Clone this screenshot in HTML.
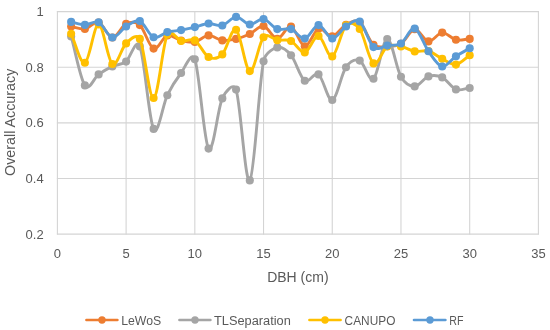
<!DOCTYPE html>
<html><head><meta charset="utf-8"><title>chart</title>
<style>html,body{margin:0;padding:0;background:#fff}svg{display:block}text{font-family:"Liberation Sans",sans-serif;fill:#595959}</style></head>
<body>
<svg width="550" height="330" viewBox="0 0 550 330">
<rect width="550" height="330" fill="#fff"/>
<g stroke="#D4D4D4" stroke-width="1.1" fill="none"><line x1="56.90" y1="11.60" x2="538.90" y2="11.60"/><line x1="56.90" y1="67.22" x2="538.90" y2="67.22"/><line x1="56.90" y1="122.85" x2="538.90" y2="122.85"/><line x1="56.90" y1="178.47" x2="538.90" y2="178.47"/><line x1="56.90" y1="234.10" x2="538.90" y2="234.10"/><line x1="57.40" y1="11.10" x2="57.40" y2="234.60"/><line x1="126.11" y1="11.10" x2="126.11" y2="234.60"/><line x1="194.83" y1="11.10" x2="194.83" y2="234.60"/><line x1="263.54" y1="11.10" x2="263.54" y2="234.60"/><line x1="332.26" y1="11.10" x2="332.26" y2="234.60"/><line x1="400.97" y1="11.10" x2="400.97" y2="234.60"/><line x1="469.69" y1="11.10" x2="469.69" y2="234.60"/><line x1="538.40" y1="11.10" x2="538.40" y2="234.60"/></g>
<path d="M71.14 26.60 C75.72 27.37 80.30 29.58 84.89 28.90 C89.47 28.22 94.05 21.07 98.63 22.50 C103.21 23.93 107.79 37.27 112.37 37.50 C116.95 37.73 121.53 25.97 126.11 23.90 C130.70 21.83 135.28 20.98 139.86 25.10 C144.44 29.22 149.02 46.88 153.60 48.60 C158.18 50.32 162.76 36.73 167.34 35.40 C171.92 34.07 176.50 39.50 181.09 40.60 C185.67 41.70 190.25 42.87 194.83 42.00 C199.41 41.13 203.99 35.67 208.57 35.40 C213.15 35.13 217.73 39.82 222.31 40.40 C226.90 40.98 231.48 39.97 236.06 38.90 C240.64 37.83 245.22 36.15 249.80 34.00 C254.38 31.85 258.96 25.20 263.54 26.00 C268.12 26.80 272.70 38.70 277.29 38.80 C281.87 38.90 286.45 25.35 291.03 26.60 C295.61 27.85 300.19 45.93 304.77 46.30 C309.35 46.67 313.93 30.47 318.51 28.80 C323.10 27.13 327.68 36.98 332.26 36.30 C336.84 35.62 341.42 27.00 346.00 24.70 C350.58 22.40 355.16 19.15 359.74 22.50 C364.32 25.85 368.90 40.83 373.49 44.80 C378.07 48.77 382.65 46.47 387.23 46.30 C391.81 46.13 396.39 46.63 400.97 43.80 C405.55 40.97 410.13 29.70 414.71 29.30 C419.30 28.90 423.88 40.85 428.46 41.40 C433.04 41.95 437.62 32.87 442.20 32.60 C446.78 32.33 451.36 38.75 455.94 39.80 C460.52 40.85 465.10 39.20 469.69 38.90" fill="none" stroke="#ED7D31" stroke-width="2.9" stroke-linecap="round" stroke-linejoin="round"/>
<g fill="#ED7D31"><circle cx="71.14" cy="26.60" r="4.05"/><circle cx="84.89" cy="28.90" r="4.05"/><circle cx="98.63" cy="22.50" r="4.05"/><circle cx="112.37" cy="37.50" r="4.05"/><circle cx="126.11" cy="23.90" r="4.05"/><circle cx="139.86" cy="25.10" r="4.05"/><circle cx="153.60" cy="48.60" r="4.05"/><circle cx="167.34" cy="35.40" r="4.05"/><circle cx="181.09" cy="40.60" r="4.05"/><circle cx="194.83" cy="42.00" r="4.05"/><circle cx="208.57" cy="35.40" r="4.05"/><circle cx="222.31" cy="40.40" r="4.05"/><circle cx="236.06" cy="38.90" r="4.05"/><circle cx="249.80" cy="34.00" r="4.05"/><circle cx="263.54" cy="26.00" r="4.05"/><circle cx="277.29" cy="38.80" r="4.05"/><circle cx="291.03" cy="26.60" r="4.05"/><circle cx="304.77" cy="46.30" r="4.05"/><circle cx="318.51" cy="28.80" r="4.05"/><circle cx="332.26" cy="36.30" r="4.05"/><circle cx="346.00" cy="24.70" r="4.05"/><circle cx="359.74" cy="22.50" r="4.05"/><circle cx="373.49" cy="44.80" r="4.05"/><circle cx="387.23" cy="46.30" r="4.05"/><circle cx="400.97" cy="43.80" r="4.05"/><circle cx="414.71" cy="29.30" r="4.05"/><circle cx="428.46" cy="41.40" r="4.05"/><circle cx="442.20" cy="32.60" r="4.05"/><circle cx="455.94" cy="39.80" r="4.05"/><circle cx="469.69" cy="38.90" r="4.05"/></g>
<path d="M71.14 36.40 C75.72 52.73 80.30 79.07 84.89 85.40 C89.47 91.73 94.05 77.57 98.63 74.40 C103.21 71.23 107.79 68.53 112.37 66.40 C116.95 64.27 121.53 64.93 126.11 61.60 C129.99 58.78 135.98 36.91 139.86 46.40 C144.44 57.62 149.02 120.77 153.60 128.90 C158.18 137.03 162.76 104.52 167.34 95.20 C171.92 85.88 176.50 78.98 181.09 73.00 C184.40 68.67 191.51 50.18 194.83 59.30 C199.41 71.90 203.99 142.08 208.57 148.60 C213.15 155.12 217.73 108.23 222.31 98.40 C225.76 91.00 233.46 81.86 236.06 89.60 C240.64 103.27 245.22 185.13 249.80 180.40 C254.38 175.67 258.96 83.37 263.54 61.20 C265.51 51.66 275.31 47.83 277.29 47.40 C281.87 46.40 286.45 49.63 291.03 55.20 C295.61 60.77 300.19 77.60 304.77 80.80 C309.35 84.00 313.93 71.20 318.51 74.40 C323.10 77.60 327.68 101.20 332.26 100.00 C336.84 98.80 341.42 73.77 346.00 67.20 C350.36 60.95 355.38 58.76 359.74 60.60 C364.32 62.53 368.90 82.40 373.49 78.80 C378.07 75.20 382.65 39.33 387.23 39.00 C391.81 38.67 396.39 68.90 400.97 76.80 C405.18 84.05 410.51 86.46 414.71 86.40 C419.30 86.33 423.88 77.90 428.46 76.40 C433.04 74.90 437.62 75.23 442.20 77.40 C446.78 79.57 451.36 87.63 455.94 89.40 C460.52 91.17 465.10 88.47 469.69 88.00" fill="none" stroke="#A5A5A5" stroke-width="2.9" stroke-linecap="round" stroke-linejoin="round"/>
<g fill="#A5A5A5"><circle cx="71.14" cy="36.40" r="4.05"/><circle cx="84.89" cy="85.40" r="4.05"/><circle cx="98.63" cy="74.40" r="4.05"/><circle cx="112.37" cy="66.40" r="4.05"/><circle cx="126.11" cy="61.60" r="4.05"/><circle cx="139.86" cy="46.40" r="4.05"/><circle cx="153.60" cy="128.90" r="4.05"/><circle cx="167.34" cy="95.20" r="4.05"/><circle cx="181.09" cy="73.00" r="4.05"/><circle cx="194.83" cy="59.30" r="4.05"/><circle cx="208.57" cy="148.60" r="4.05"/><circle cx="222.31" cy="98.40" r="4.05"/><circle cx="236.06" cy="89.60" r="4.05"/><circle cx="249.80" cy="180.40" r="4.05"/><circle cx="263.54" cy="61.20" r="4.05"/><circle cx="277.29" cy="47.40" r="4.05"/><circle cx="291.03" cy="55.20" r="4.05"/><circle cx="304.77" cy="80.80" r="4.05"/><circle cx="318.51" cy="74.40" r="4.05"/><circle cx="332.26" cy="100.00" r="4.05"/><circle cx="346.00" cy="67.20" r="4.05"/><circle cx="359.74" cy="60.60" r="4.05"/><circle cx="373.49" cy="78.80" r="4.05"/><circle cx="387.23" cy="39.00" r="4.05"/><circle cx="400.97" cy="76.80" r="4.05"/><circle cx="414.71" cy="86.40" r="4.05"/><circle cx="428.46" cy="76.40" r="4.05"/><circle cx="442.20" cy="77.40" r="4.05"/><circle cx="455.94" cy="89.40" r="4.05"/><circle cx="469.69" cy="88.00" r="4.05"/></g>
<path d="M71.14 33.80 C75.72 43.47 80.30 64.37 84.89 62.80 C89.47 61.23 94.05 24.20 98.63 24.40 C103.21 24.60 107.79 60.83 112.37 64.00 C116.95 67.17 121.53 47.58 126.11 43.40 C129.37 40.43 136.61 32.44 139.86 38.90 C144.44 48.00 149.02 98.75 153.60 98.00 C158.18 97.25 162.76 43.90 167.34 34.40 C170.65 27.53 177.77 40.28 181.09 41.00 C185.67 42.00 190.25 37.73 194.83 40.40 C199.41 43.07 203.99 54.67 208.57 57.00 C213.15 59.33 217.73 58.93 222.31 54.40 C226.90 49.87 231.48 27.02 236.06 29.80 C240.64 32.58 245.22 69.85 249.80 71.10 C254.38 72.35 258.96 42.45 263.54 37.30 C268.12 32.15 272.70 39.58 277.29 40.20 C281.87 40.82 286.45 38.97 291.03 41.00 C295.61 43.03 300.19 53.23 304.77 52.40 C309.35 51.57 313.93 35.33 318.51 36.00 C323.10 36.67 327.68 58.17 332.26 56.40 C336.84 54.63 341.42 29.97 346.00 25.40 C350.16 21.25 355.58 23.24 359.74 29.00 C364.32 35.33 368.90 60.50 373.49 63.40 C378.07 66.30 382.65 49.23 387.23 46.40 C391.81 43.57 396.39 45.57 400.97 46.40 C405.55 47.23 410.13 50.63 414.71 51.40 C419.30 52.17 423.88 49.77 428.46 51.00 C433.04 52.23 437.62 56.53 442.20 58.80 C446.78 61.07 451.36 65.20 455.94 64.60 C460.52 64.00 465.10 58.33 469.69 55.20" fill="none" stroke="#FFC000" stroke-width="2.9" stroke-linecap="round" stroke-linejoin="round"/>
<g fill="#FFC000"><circle cx="71.14" cy="33.80" r="4.05"/><circle cx="84.89" cy="62.80" r="4.05"/><circle cx="98.63" cy="24.40" r="4.05"/><circle cx="112.37" cy="64.00" r="4.05"/><circle cx="126.11" cy="43.40" r="4.05"/><circle cx="139.86" cy="38.90" r="4.05"/><circle cx="153.60" cy="98.00" r="4.05"/><circle cx="167.34" cy="34.40" r="4.05"/><circle cx="181.09" cy="41.00" r="4.05"/><circle cx="194.83" cy="40.40" r="4.05"/><circle cx="208.57" cy="57.00" r="4.05"/><circle cx="222.31" cy="54.40" r="4.05"/><circle cx="236.06" cy="29.80" r="4.05"/><circle cx="249.80" cy="71.10" r="4.05"/><circle cx="263.54" cy="37.30" r="4.05"/><circle cx="277.29" cy="40.20" r="4.05"/><circle cx="291.03" cy="41.00" r="4.05"/><circle cx="304.77" cy="52.40" r="4.05"/><circle cx="318.51" cy="36.00" r="4.05"/><circle cx="332.26" cy="56.40" r="4.05"/><circle cx="346.00" cy="25.40" r="4.05"/><circle cx="359.74" cy="29.00" r="4.05"/><circle cx="373.49" cy="63.40" r="4.05"/><circle cx="387.23" cy="46.40" r="4.05"/><circle cx="400.97" cy="46.40" r="4.05"/><circle cx="414.71" cy="51.40" r="4.05"/><circle cx="428.46" cy="51.00" r="4.05"/><circle cx="442.20" cy="58.80" r="4.05"/><circle cx="455.94" cy="64.60" r="4.05"/><circle cx="469.69" cy="55.20" r="4.05"/></g>
<path d="M71.14 21.90 C75.72 22.90 80.30 24.83 84.89 24.90 C89.47 24.97 94.05 20.20 98.63 22.30 C103.21 24.40 107.79 36.80 112.37 37.50 C116.95 38.20 121.53 29.23 126.11 26.50 C130.70 23.77 135.28 19.30 139.86 21.10 C144.44 22.90 149.02 35.47 153.60 37.30 C158.18 39.13 162.76 33.30 167.34 32.10 C171.92 30.90 176.50 30.93 181.09 30.10 C185.67 29.27 190.25 28.20 194.83 27.10 C199.41 26.00 203.99 23.77 208.57 23.50 C213.15 23.23 217.73 26.60 222.31 25.50 C226.90 24.40 231.48 17.07 236.06 16.90 C240.64 16.73 245.22 24.13 249.80 24.50 C254.38 24.87 258.96 18.33 263.54 19.10 C268.12 19.87 272.70 27.43 277.29 29.10 C281.87 30.77 286.45 27.53 291.03 29.10 C295.61 30.67 300.19 39.17 304.77 38.50 C309.35 37.83 313.93 25.10 318.51 25.10 C323.10 25.10 327.68 38.27 332.26 38.50 C336.84 38.73 341.42 29.33 346.00 26.50 C350.58 23.67 355.16 18.07 359.74 21.50 C364.32 24.93 368.90 43.08 373.49 47.10 C378.07 51.12 382.65 46.20 387.23 45.60 C391.81 45.00 396.39 46.35 400.97 43.50 C405.55 40.65 410.13 27.20 414.71 28.50 C419.30 29.80 423.88 44.97 428.46 51.30 C433.04 57.63 437.62 65.67 442.20 66.50 C446.78 67.33 451.36 59.33 455.94 56.30 C460.52 53.27 465.10 50.97 469.69 48.30" fill="none" stroke="#5B9BD5" stroke-width="2.9" stroke-linecap="round" stroke-linejoin="round"/>
<g fill="#5B9BD5"><circle cx="71.14" cy="21.90" r="4.05"/><circle cx="84.89" cy="24.90" r="4.05"/><circle cx="98.63" cy="22.30" r="4.05"/><circle cx="112.37" cy="37.50" r="4.05"/><circle cx="126.11" cy="26.50" r="4.05"/><circle cx="139.86" cy="21.10" r="4.05"/><circle cx="153.60" cy="37.30" r="4.05"/><circle cx="167.34" cy="32.10" r="4.05"/><circle cx="181.09" cy="30.10" r="4.05"/><circle cx="194.83" cy="27.10" r="4.05"/><circle cx="208.57" cy="23.50" r="4.05"/><circle cx="222.31" cy="25.50" r="4.05"/><circle cx="236.06" cy="16.90" r="4.05"/><circle cx="249.80" cy="24.50" r="4.05"/><circle cx="263.54" cy="19.10" r="4.05"/><circle cx="277.29" cy="29.10" r="4.05"/><circle cx="291.03" cy="29.10" r="4.05"/><circle cx="304.77" cy="38.50" r="4.05"/><circle cx="318.51" cy="25.10" r="4.05"/><circle cx="332.26" cy="38.50" r="4.05"/><circle cx="346.00" cy="26.50" r="4.05"/><circle cx="359.74" cy="21.50" r="4.05"/><circle cx="373.49" cy="47.10" r="4.05"/><circle cx="387.23" cy="45.60" r="4.05"/><circle cx="400.97" cy="43.50" r="4.05"/><circle cx="414.71" cy="28.50" r="4.05"/><circle cx="428.46" cy="51.30" r="4.05"/><circle cx="442.20" cy="66.50" r="4.05"/><circle cx="455.94" cy="56.30" r="4.05"/><circle cx="469.69" cy="48.30" r="4.05"/></g>
<text transform="translate(43.7,16.10) scale(0.956,1)" font-size="13.6" text-anchor="end">1</text>
<text transform="translate(43.7,71.72) scale(0.956,1)" font-size="13.6" text-anchor="end">0.8</text>
<text transform="translate(43.7,127.35) scale(0.956,1)" font-size="13.6" text-anchor="end">0.6</text>
<text transform="translate(43.7,182.97) scale(0.956,1)" font-size="13.6" text-anchor="end">0.4</text>
<text transform="translate(43.7,238.60) scale(0.956,1)" font-size="13.6" text-anchor="end">0.2</text>
<text transform="translate(57.40,258.4) scale(0.956,1)" font-size="13.6" text-anchor="middle">0</text>
<text transform="translate(126.11,258.4) scale(0.956,1)" font-size="13.6" text-anchor="middle">5</text>
<text transform="translate(194.83,258.4) scale(0.956,1)" font-size="13.6" text-anchor="middle">10</text>
<text transform="translate(263.54,258.4) scale(0.956,1)" font-size="13.6" text-anchor="middle">15</text>
<text transform="translate(332.26,258.4) scale(0.956,1)" font-size="13.6" text-anchor="middle">20</text>
<text transform="translate(400.97,258.4) scale(0.956,1)" font-size="13.6" text-anchor="middle">25</text>
<text transform="translate(469.69,258.4) scale(0.956,1)" font-size="13.6" text-anchor="middle">30</text>
<text transform="translate(538.40,258.4) scale(0.956,1)" font-size="13.6" text-anchor="middle">35</text>
<text x="297.9" y="281.7" font-size="14.6" text-anchor="middle" textLength="61.4" lengthAdjust="spacingAndGlyphs">DBH (cm)</text>
<text transform="translate(15.4,122.3) rotate(-90)" font-size="14.6" text-anchor="middle" textLength="107.2" lengthAdjust="spacingAndGlyphs">Overall Accuracy</text>
<line x1="86.4" y1="320" x2="117.4" y2="320" stroke="#ED7D31" stroke-width="2.6" stroke-linecap="round"/><circle cx="102.0" cy="320" r="3.7" fill="#ED7D31"/>
<text x="121.2" y="324.6" font-size="13.7" textLength="40.0" lengthAdjust="spacingAndGlyphs">LeWoS</text>
<line x1="179.4" y1="320" x2="210.4" y2="320" stroke="#A5A5A5" stroke-width="2.6" stroke-linecap="round"/><circle cx="195.0" cy="320" r="3.7" fill="#A5A5A5"/>
<text x="214.0" y="324.6" font-size="13.7" textLength="76.8" lengthAdjust="spacingAndGlyphs">TLSeparation</text>
<line x1="309.4" y1="320" x2="340.6" y2="320" stroke="#FFC000" stroke-width="2.6" stroke-linecap="round"/><circle cx="325.0" cy="320" r="3.7" fill="#FFC000"/>
<text x="344.6" y="324.6" font-size="13.7" textLength="50.8" lengthAdjust="spacingAndGlyphs">CANUPO</text>
<line x1="414.0" y1="320" x2="445.4" y2="320" stroke="#5B9BD5" stroke-width="2.6" stroke-linecap="round"/><circle cx="430.0" cy="320" r="3.7" fill="#5B9BD5"/>
<text x="449.2" y="324.6" font-size="13.7" textLength="14.2" lengthAdjust="spacingAndGlyphs">RF</text>
</svg>
</body></html>
